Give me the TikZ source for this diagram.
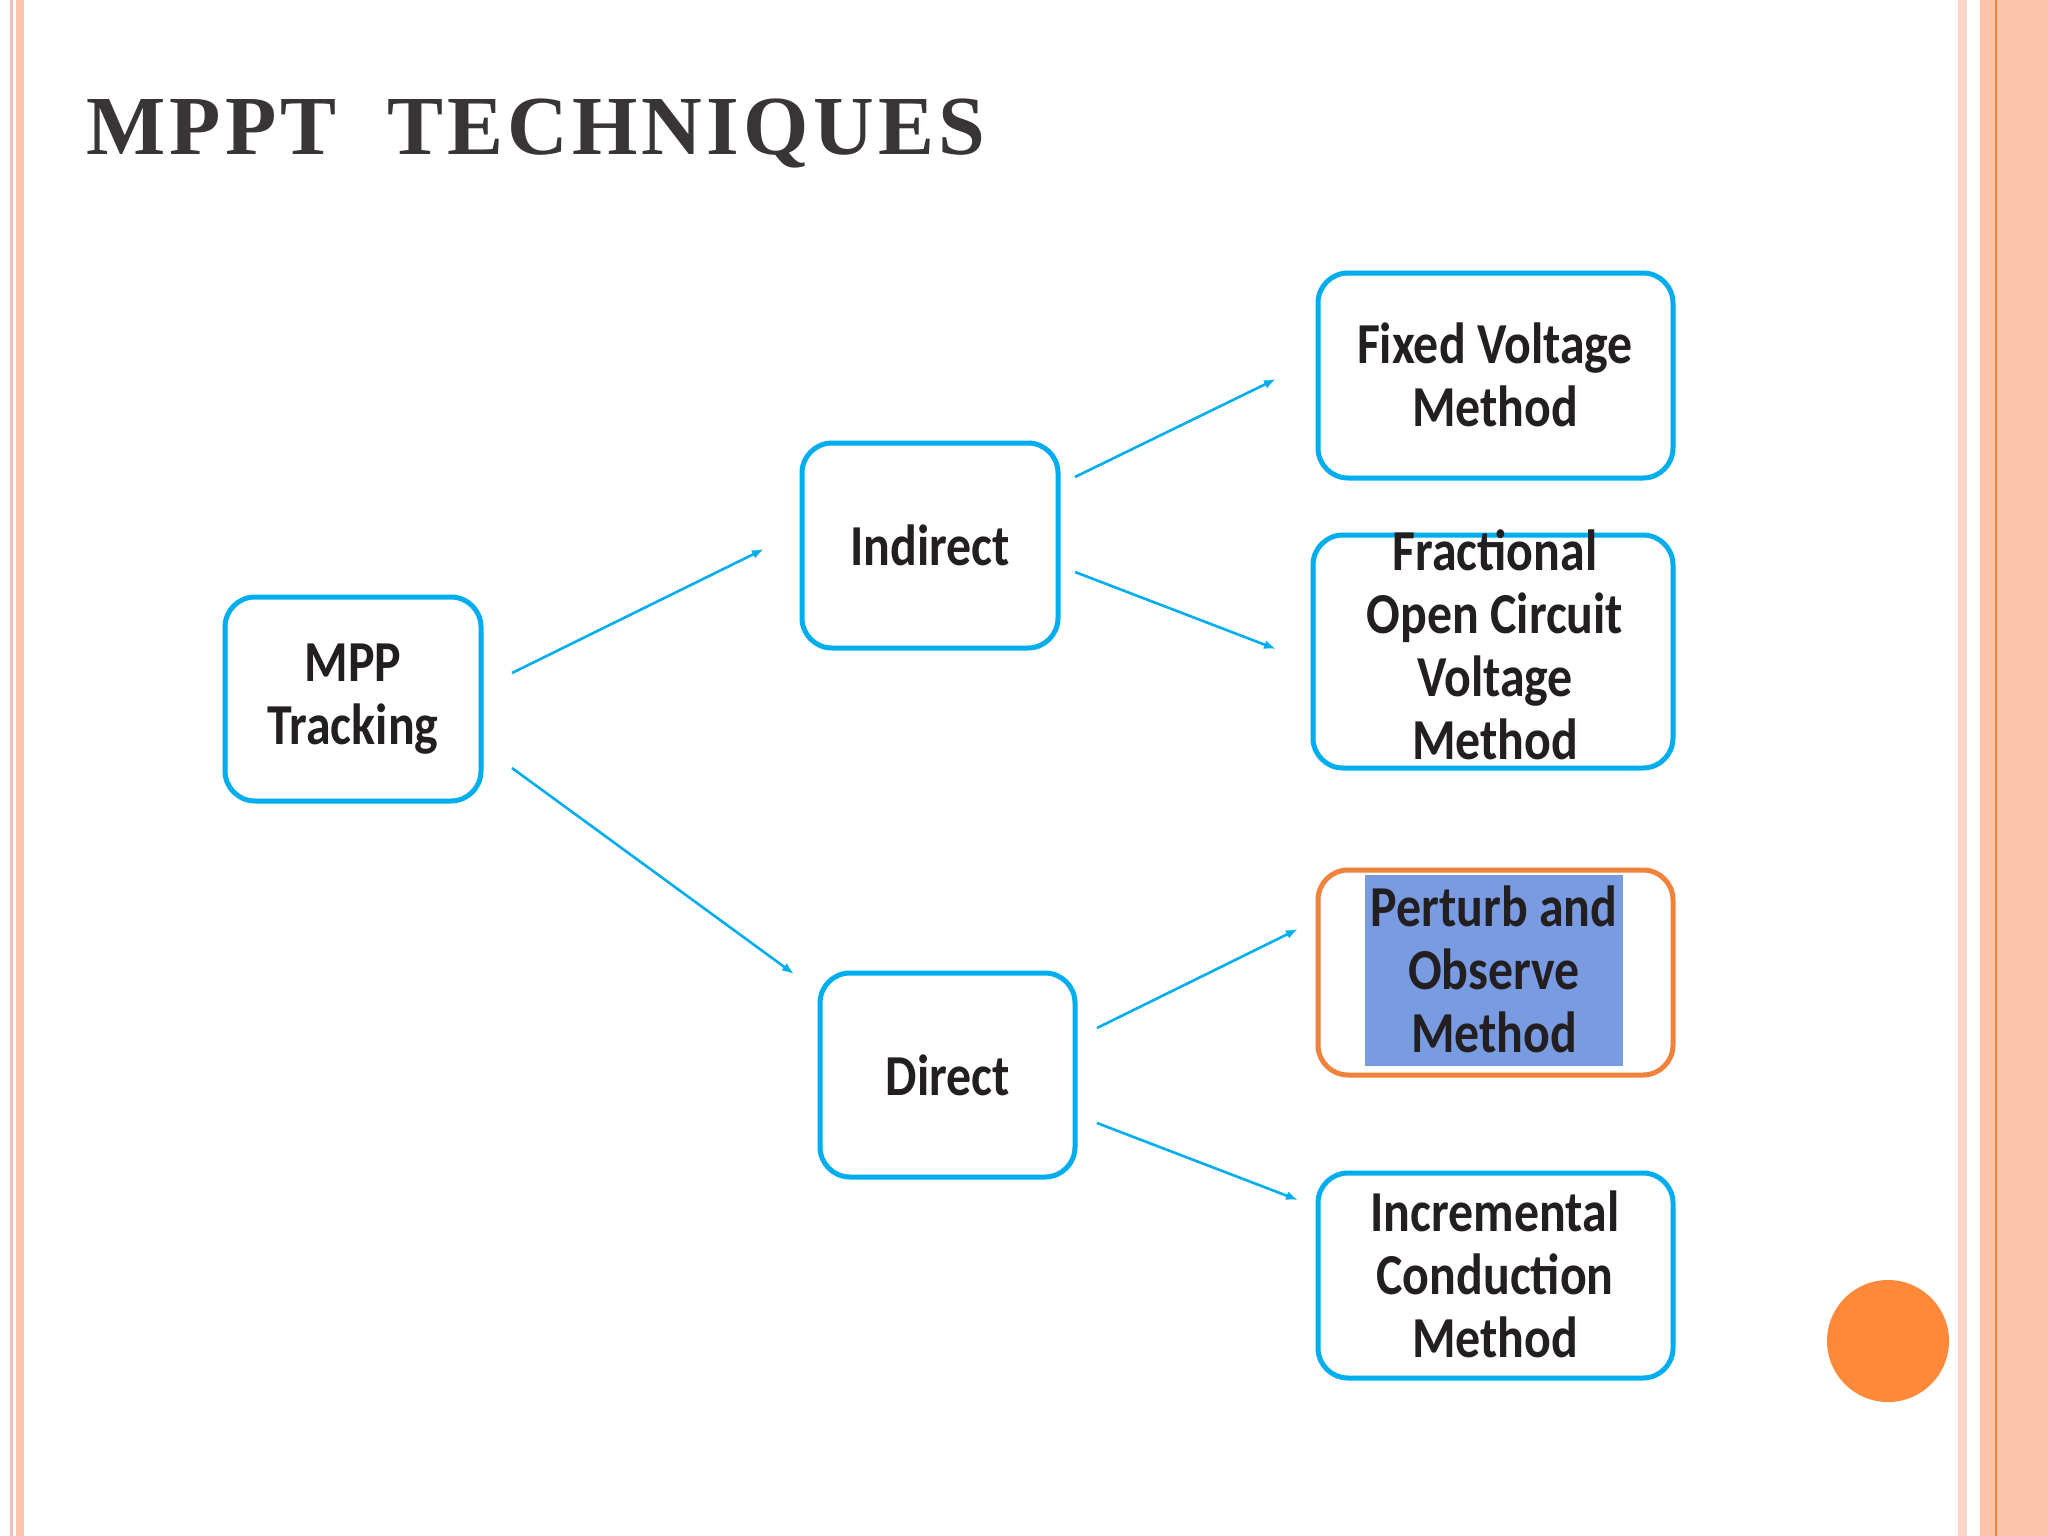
\documentclass[tikz,border=0pt]{standalone}
\usepackage{fontspec}
\setmainfont{Carlito}
\newfontfamily\boxfont[FakeStretch=0.86,BoldFont={Carlito Bold}]{Carlito}
\newfontfamily\titlefont[LetterSpace=5]{Liberation Serif}
\usetikzlibrary{arrows.meta}
\definecolor{cblue}{RGB}{0,174,239}
\definecolor{salmon}{RGB}{253,196,172}
\definecolor{pinkline}{RGB}{245,190,180}
\definecolor{oline}{RGB}{240,130,60}
\definecolor{ocirc}{RGB}{253,137,57}
\definecolor{hilite}{RGB}{120,155,225}
\definecolor{txt}{RGB}{35,31,32}
\begin{document}
\begin{tikzpicture}[x=1pt,y=-1pt,
  box/.style={draw=cblue,line width=5pt,rounded corners=30pt},
  lbl/.style={align=center,font=\boxfont\bfseries\fontsize{58}{63}\selectfont,text=txt,inner sep=0pt},
  conn/.style={draw=cblue,line width=2.6pt,-{Latex[length=12pt,width=9pt]}}]
\useasboundingbox (0,0) rectangle (2048,1536);
\fill[white] (0,0) rectangle (2048,1536);
% borders
\fill[pinkline] (10,0) rectangle (13,1536);
\fill[salmon] (16,0) rectangle (24,1536);
\fill[salmon!70] (1958,0) rectangle (1967,1536);
\fill[salmon] (1980,0) rectangle (2048,1536);
\fill[oline] (1995,0) rectangle (1997,1536);
% title
\node[anchor=base west,inner sep=0pt,font=\titlefont\bfseries\fontsize{84}{84}\selectfont,text=txt!90] (title) at (86,154) {MPPT\ \ TECHNIQUES};
% boxes
\draw[box] (225,597) rectangle (481,801);
\node[lbl] (mpp) at (353,699) {MPP\\Tracking};
\draw[box] (802,443) rectangle (1058,648);
\node[lbl] (ind) at (930,545) {Indirect};
\draw[box] (820,973) rectangle (1075,1177);
\node[lbl] (dir) at (948,1075) {Direct};
\draw[box] (1318,273) rectangle (1673,478);
\node[lbl] (fix) at (1495,375) {Fixed Voltage\\Method};
\draw[box] (1313,535) rectangle (1673,768);
\node[lbl] (frac) at (1495,645) {Fractional\\Open Circuit\\Voltage\\Method};
\draw[box,draw=oline] (1318,870) rectangle (1673,1075);
\fill[hilite] (1365,875) rectangle (1623,1066);
\node[lbl] (po) at (1494,969) {Perturb and\\Observe\\Method};
\draw[box] (1318,1173) rectangle (1673,1378);
\node[lbl] (inc) at (1495,1274) {Incremental\\Conduction\\Method};
\fill[ocirc] (1888,1341) circle (61);
% connectors
\coordinate (a1) at (512,673); \coordinate (a2) at (764,549);
\coordinate (b1) at (512,768); \coordinate (b2) at (794,974);
\coordinate (c1) at (1075,477); \coordinate (c2) at (1276,379);
\coordinate (d1) at (1075,572); \coordinate (d2) at (1276,649);
\coordinate (e1) at (1097,1028); \coordinate (e2) at (1298,929);
\coordinate (f1) at (1097,1123); \coordinate (f2) at (1298,1200);
\draw[conn] (a1) -- (a2);
\draw[conn] (b1) -- (b2);
\draw[conn] (c1) -- (c2);
\draw[conn] (d1) -- (d2);
\draw[conn] (e1) -- (e2);
\draw[conn] (f1) -- (f2);
\end{tikzpicture}
\end{document}
